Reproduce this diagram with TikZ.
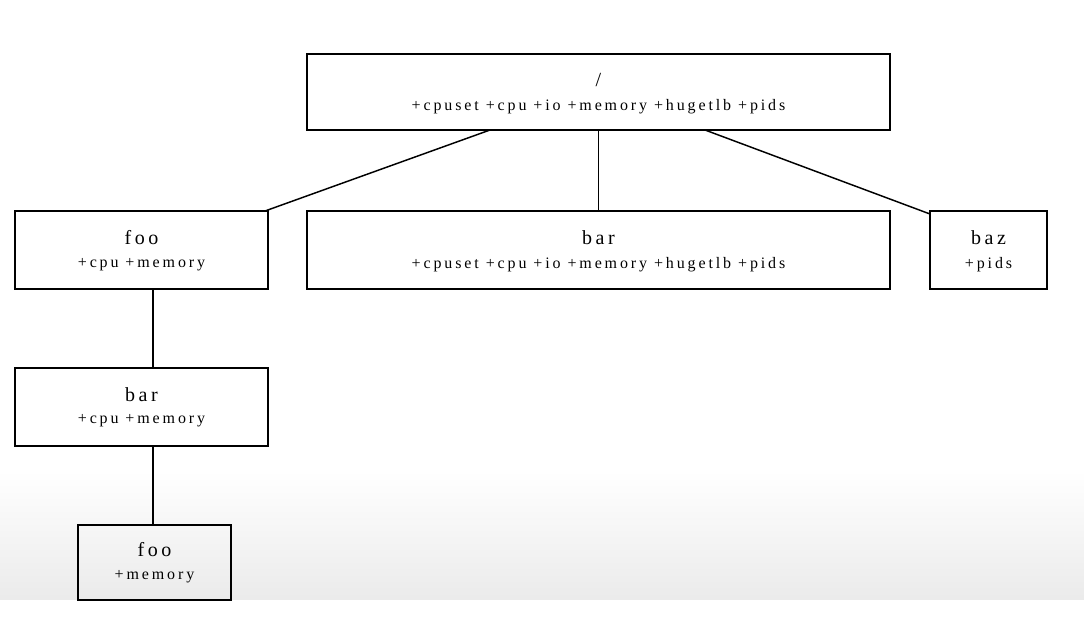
\documentclass[tikz,border=0pt]{standalone}
\usepackage{fontspec}
\setmainfont{Liberation Serif}
\newfontfamily\spaced[LetterSpace=18]{Liberation Serif}
\begin{document}
\begin{tikzpicture}[x=0.75pt,y=-0.75pt,
  box/.style={draw,line width=1.1pt,inner sep=0pt},
  t/.style={font=\spaced\fontsize{15}{15}\selectfont,anchor=center},
  s/.style={font=\spaced\fontsize{12}{12}\selectfont,anchor=center},
  e/.style={line width=1.1pt}]
\useasboundingbox (0,0) rectangle (1084,625);
\shade[top color=white,bottom color=black!8] (0,470) rectangle (1084,600);
\fill[white] (0,600) rectangle (1084,625);
\node[box,minimum width=583*0.75pt,minimum height=76*0.75pt] (root) at (598.5,92) {};
\node[t] at (598.5,80) {/};
\node[s] at (598.5,107) {+cpuset +cpu +io +memory +hugetlb +pids};
\node[box,minimum width=253*0.75pt,minimum height=78*0.75pt] (foo) at (141.5,250) {};
\node[t] at (141.5,238) {foo};
\node[s] at (141.5,265) {+cpu +memory};
\node[box,minimum width=583*0.75pt,minimum height=78*0.75pt] (bar) at (598.5,250) {};
\node[t] at (598.5,238) {bar};
\node[s] at (598.5,265) {+cpuset +cpu +io +memory +hugetlb +pids};
\node[box,minimum width=117*0.75pt,minimum height=78*0.75pt] (baz) at (988.5,250) {};
\node[t] at (988.5,238) {baz};
\node[s] at (988.5,265) {+pids};
\node[box,minimum width=253*0.75pt,minimum height=78*0.75pt] (bar2) at (141.5,407) {};
\node[t] at (141.5,395) {bar};
\node[s] at (141.5,421) {+cpu +memory};
\node[box,minimum width=153*0.75pt,minimum height=75*0.75pt] (foo2) at (154.5,562.5) {};
\node[t] at (154.5,550) {foo};
\node[s] at (154.5,577) {+memory};
\draw[e] (490,130) -- (265,211);
\draw[e] (root.south) -- (bar.north);
\draw[e] (705,130) -- (930,214);
\draw[e] (153,289) -- (153,368);
\draw[e] (153,446) -- (153,525);
\end{tikzpicture}
\end{document}
